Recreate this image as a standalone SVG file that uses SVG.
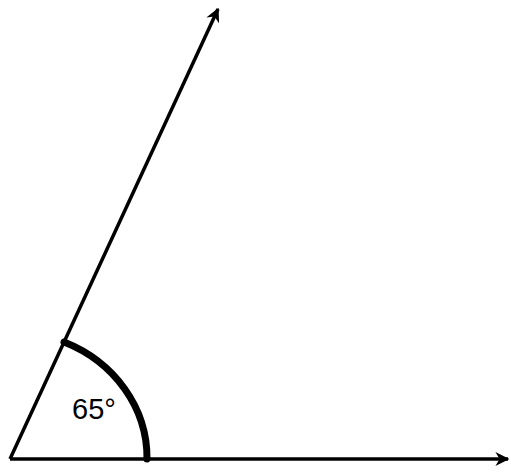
<svg xmlns="http://www.w3.org/2000/svg" width="511" height="472" viewBox="0 0 511 472">
<style>
.ray{stroke:#000;stroke-width:3.5;fill:none}
.arc{stroke:#000;stroke-width:7;fill:none;stroke-linecap:round}
.lbl{font-family:"Liberation Sans",Arial,sans-serif;font-size:29px;fill:#000}
</style>
<defs>
<marker id="ah" viewBox="0 0 10 10" refX="9" refY="5" markerWidth="4" markerHeight="4" orient="auto" markerUnits="strokeWidth">
<path d="M0,0 L10,5 L0,10 L3,5 Z" fill="#000"/>
</marker>
</defs>
<g id="connectors">
<line class="ray" x1="10" y1="459" x2="508" y2="459" marker-end="url(#ah)"/>
<line class="ray" x1="10" y1="459" x2="218" y2="9" marker-end="url(#ah)"/>
</g>
<g id="angle">
<path class="arc" d="M64,342 A137 126 0 0 1 147,459"/>
<text class="lbl" x="72" y="419">65°</text>
</g>
</svg>
